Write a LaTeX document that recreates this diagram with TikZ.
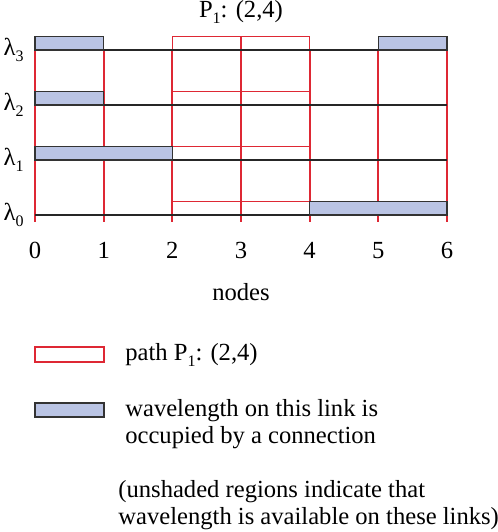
\documentclass[tikz,border=0pt]{standalone}
\usepackage{fontspec}
\setmainfont{Liberation Serif}
\usetikzlibrary{positioning}
\definecolor{pathred}{RGB}{222,40,52}
\definecolor{busyblue}{RGB}{186,196,228}
\newcommand{\lowsub}[1]{\raisebox{-0.5ex}{\footnotesize #1}}

\begin{document}
\begin{tikzpicture}[
  x=34.33pt, y=27.5pt,
  font=\fontsize{12.3}{13.5}\selectfont,
  link/.style={draw=black!85, line width=0.55pt},
  sep/.style={draw=pathred, line width=0.9pt},
  pathbox/.style={draw=pathred, line width=0.65pt},
  busy/.style={draw=black!80, line width=0.75pt, fill=busyblue},
  lbl/.style={inner sep=0pt}
]
\useasboundingbox (-0.5097,3.909) rectangle (6.7415,-5.764);

% node separators
\foreach \n in {0,...,6}
  \draw[sep] (\n,-0.127) -- (\n,3);

% path P1 on every wavelength
\foreach \w in {0,...,3} {
  \draw[pathbox] (2,\w) |- (4,\w+0.245) -- (4,\w);
  \draw[pathbox] (3,\w) -- (3,\w+0.245);
}

% wavelength links
\foreach \w in {0,...,3} {
  \draw[link] (0,\w) -- (6,\w);
  \node[lbl] (L\w) at (-0.31,\w) {λ\lowsub{\w}};
}

% occupied links
\draw[busy] (0,3) rectangle (1,3.245);
\draw[busy] (5,3) rectangle (6,3.245);
\draw[busy] (0,2) rectangle (1,2.245);
\draw[busy] (0,1) rectangle (2,1.245);
\draw[busy] (4,0) rectangle (6,0.245);

% axis
\foreach \n in {0,...,6}
  \node[lbl] (N\n) at (\n,-0.64) {\n};
\node[lbl] (axis) at (3,-1.4) {nodes};
\node[lbl] (title) at (3,3.69) {P\lowsub{1}: (2,4)};

% legend
\draw[pathbox] (0,-2.4) rectangle (1.005,-2.673);
\node[lbl, anchor=west] (legpath) at (1.31,-2.545) {path P\lowsub{1}: (2,4)};
\draw[busy] (0,-3.418) rectangle (1.005,-3.673);
\node[lbl, anchor=west, align=left] (legbusy) at (1.31,-3.8)
  {wavelength on this link is\\occupied by a connection};
\node[lbl, anchor=west, align=left] (note) at (1.209,-5.27)
  {(unshaded regions indicate that\\wavelength is available on these links)};

\end{tikzpicture}
\end{document}
